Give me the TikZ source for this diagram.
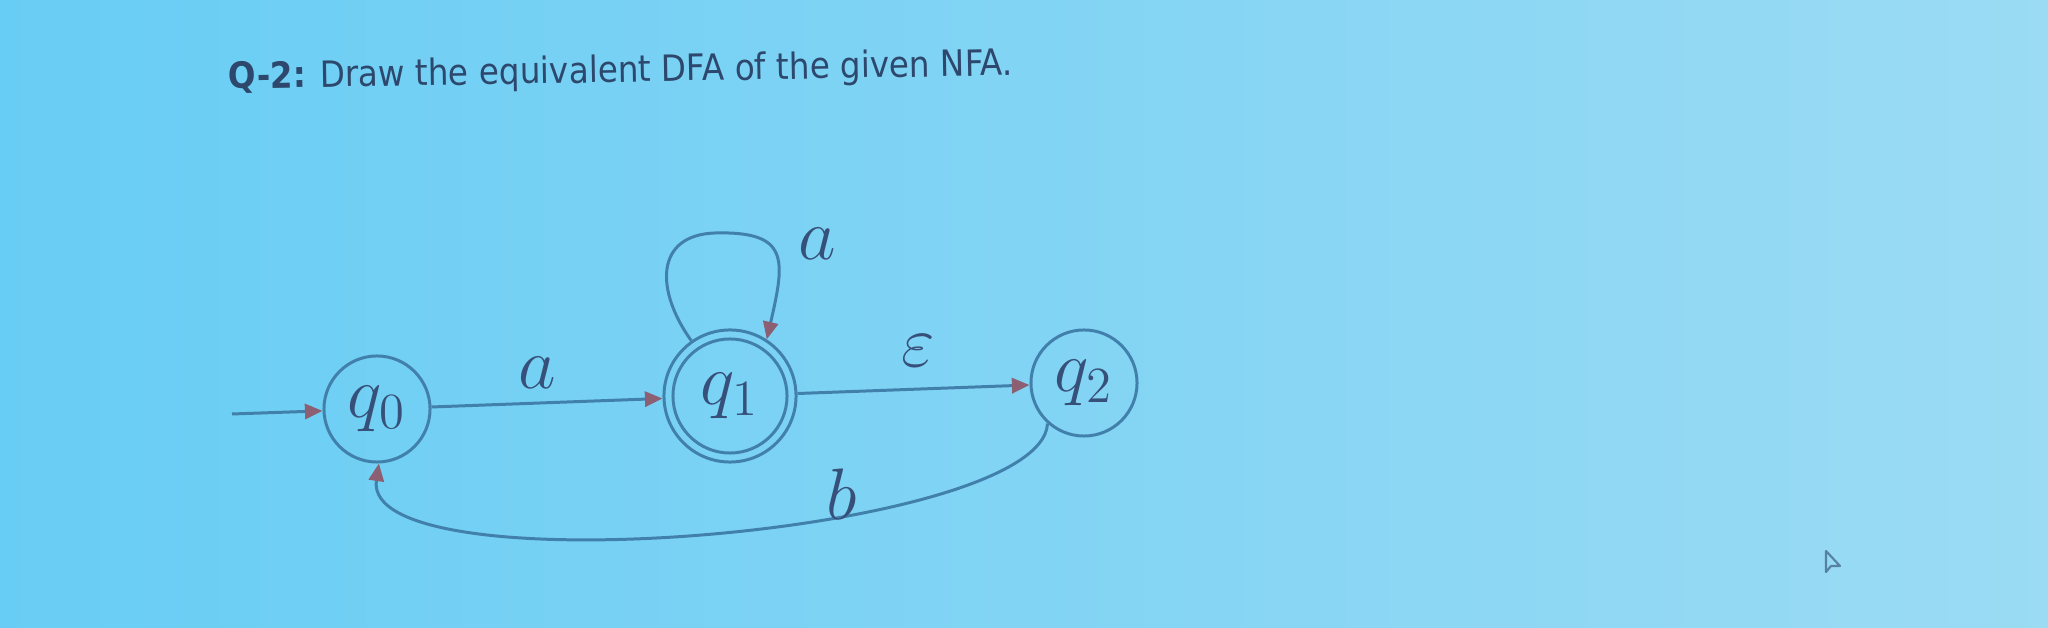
\documentclass[tikz,border=0pt]{standalone}
\usepackage{fontspec}
\newfontfamily\titlefont{DejaVu Sans Condensed}
\usetikzlibrary{arrows.meta}
\DeclareMathSizes{20}{20}{15.5}{12}
\definecolor{bgL}{RGB}{104,205,244}
\definecolor{bgR}{RGB}{155,219,244}
\definecolor{edgec}{RGB}{66,128,172}
\definecolor{tipc}{RGB}{140,95,115}
\definecolor{lblc}{RGB}{55,80,122}
\definecolor{ttlc}{RGB}{45,72,108}
\tikzset{
  state/.style={circle, draw=edgec, line width=0.85pt, minimum size=1.06cm, inner sep=0pt, text=lblc, font=\fontsize{20}{24}\selectfont},
  acceptstate/.style={state, minimum size=1.32cm},
  trans/.style={draw=edgec, line width=0.85pt, -{Triangle[length=5pt,width=4.3pt,color=tipc]}},
  lbl/.style={text=lblc, font=\fontsize{20}{24}\selectfont, inner sep=0pt, anchor=base}
}
\begin{document}
\begin{tikzpicture}[x=0.01cm, y=-0.01cm]
  \useasboundingbox (0,0) rectangle (2048,628);
  \shade[left color=bgL, right color=bgR] (0,0) rectangle (2048,628);
  \node[anchor=base west, inner sep=0pt, text=ttlc, font=\titlefont\fontsize{10.3}{12}\selectfont, rotate=1.0] (title) at (228,89) {\textbf{Q-2:} Draw the equivalent DFA of the given NFA.};
  \node[state] (q0) at (377,409) {$q_0$};
  \node[acceptstate] (q1) at (730,396) {$q_1$};
  \node[state] (q2) at (1084,383) {$q_2$};
  \draw[edgec, line width=0.85pt] (q1.center) circle[radius=0.57cm];
  \coordinate (start) at (232,414);
  \draw[trans] (start) -- (q0);
  \draw[trans] (q0) -- (q1);
  \draw[trans] (q1.125) .. controls (655,290) and (655,235) .. (715,233) .. controls (790,231) and (785,260) .. (q1.57);
  \draw[trans] (q1) -- (q2);
  \draw[trans] (q2.228) .. controls (1042,535) and (360,590) .. (q0.272);
  \node[lbl] (la1) at (537,389) {$a$};
  \node[lbl] (la2) at (817,260) {$a$};
  \node[lbl] (leps) at (918,367) {$\varepsilon$};
  \node[lbl] (lb) at (842,520) {$b$};
  \draw[draw=ttlc, opacity=0.6, line width=0.6pt, line join=round] (1826,551) -- (1826,572) -- (1831,566) -- (1840,566) -- cycle;
\end{tikzpicture}
\end{document}
